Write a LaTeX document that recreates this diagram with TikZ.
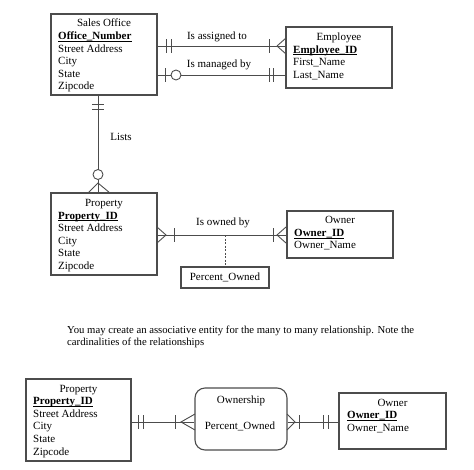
\documentclass[tikz,border=0pt]{standalone}
\usepackage{fontspec}
\setmainfont{Liberation Serif}
\newcommand\keyul[1]{\setbox0\hbox{\textbf{#1}}\rlap{\rule[-1.9pt]{\wd0}{0.75pt}}\box0}
\begin{document}
\begin{tikzpicture}[x=1pt,y=-1pt,
  ent/.style={draw=black!70,line width=1.1pt,inner sep=0pt,rectangle},
  txt/.style={inner sep=0pt,font=\fontsize{11}{12.5}\selectfont,text height=1.5ex,text depth=.25ex},
  attr/.style={txt,anchor=west},
  rel/.style={draw=black!70,line width=0.9pt},
  lbl/.style={txt}]
\useasboundingbox (0,0) rectangle (474,469);
% ---------- Sales Office
\node[ent,minimum width=106pt,minimum height=81pt] (so) at (104,54.5) {};
\node[txt] (so0) at (104,24) {Sales Office};
\node[attr] (so1) at (58,36.8) {\keyul{Office\_Number}};
\node[attr] (so2) at (58,49.3) {Street Address};
\node[attr] (so3) at (58,61.8) {City};
\node[attr] (so4) at (58,74.3) {State};
\node[attr] (so5) at (58,86.8) {Zipcode};
% ---------- Employee
\node[ent,minimum width=106pt,minimum height=61pt] (emp) at (339,57.5) {};
\node[txt] (emp0) at (339,37.5) {Employee};
\node[attr] (emp1) at (293,50.3) {\keyul{Employee\_ID}};
\node[attr] (emp2) at (293,62.8) {First\_Name};
\node[attr] (emp3) at (293,75.3) {Last\_Name};
% ---------- Property
\node[ent,minimum width=106pt,minimum height=82pt] (pr) at (104,234) {};
\node[txt] (pr0) at (104,203.5) {Property};
\node[attr] (pr1) at (58,216.3) {\keyul{Property\_ID}};
\node[attr] (pr2) at (58,228.8) {Street Address};
\node[attr] (pr3) at (58,241.3) {City};
\node[attr] (pr4) at (58,253.8) {State};
\node[attr] (pr5) at (58,266.3) {Zipcode};
% ---------- Owner
\node[ent,minimum width=106pt,minimum height=47pt] (ow) at (340,234.5) {};
\node[txt] (ow0) at (340,221) {Owner};
\node[attr] (ow1) at (294,233.5) {\keyul{Owner\_ID}};
\node[attr] (ow2) at (294,246) {Owner\_Name};
% ---------- Percent_Owned
\node[ent,minimum width=88pt,minimum height=21pt,font=\fontsize{11}{12.5}\selectfont] (po) at (225,277.5) {Percent\_Owned};
% ---------- relationships top
\draw[rel] (so.east |- 0,46) -- (emp.west |- 0,46);
\draw[rel] (166,39) -- (166,53) (171,39) -- (171,53);
\draw[rel] (269,39) -- (269,53);
\draw[rel] (277,46) -- (286,38) (277,46) -- (286,54);
\node[lbl] (l1) at (217,37) {Is assigned to};
\draw[rel] (so.east |- 0,75) -- (171,75) (181,75) -- (emp.west |- 0,75);
\draw[rel] (165,68) -- (165,82);
\draw[rel] (176,75) circle[radius=5];
\draw[rel] (269,68) -- (269,82) (273,68) -- (273,82);
\node[lbl] (l2) at (219,65) {Is managed by};
% Lists
\draw[rel] (so.south -| 98,0) -- (98,169.5) (98,179.5) -- (pr.north -| 98,0);
\draw[rel] (92,104) -- (104,104) (92,109) -- (104,109);
\draw[rel] (98,174.5) circle[radius=5];
\draw[rel] (88,193) -- (98,183) -- (110,193);
\node[lbl] (l3) at (121,138) {Lists};
% Is owned by
\draw[rel] (pr.east |- 0,235) -- (ow.west |- 0,235);
\draw[rel] (157,227) -- (166,235) -- (157,243);
\draw[rel] (174,228) -- (174,242);
\draw[rel] (273,228) -- (273,242);
\draw[rel] (286,227) -- (277,235) -- (286,243);
\node[lbl] (l4) at (223,223) {Is owned by};
\coordinate (mid) at (225,235);
\draw[rel,line width=0.7pt,dash pattern=on 2pt off 1.5pt] (mid) -- (po.north);
% ---------- note
\node[inner sep=0pt,anchor=north west,align=left,font=\fontsize{10.7}{11.3}\selectfont] (note) at (67,326) {You may create an associative entity for the many to many relationship. Note the\\cardinalities of the relationships};
% ---------- bottom
\node[ent,minimum width=105pt,minimum height=82pt] (pb) at (78.5,420) {};
\node[txt] (pb0) at (78.5,389.5) {Property};
\node[attr] (pb1) at (33,401.8) {\keyul{Property\_ID}};
\node[attr] (pb2) at (33,414.3) {Street Address};
\node[attr] (pb3) at (33,426.8) {City};
\node[attr] (pb4) at (33,439.3) {State};
\node[attr] (pb5) at (33,452.3) {Zipcode};
\node[ent,rounded corners=10pt,minimum width=92pt,minimum height=62pt] (osh) at (241,419) {};
\node[txt] (osh0) at (241,401) {Ownership};
\node[txt] (osh1) at (240,427) {Percent\_Owned};
\node[ent,minimum width=107pt,minimum height=56pt] (ob) at (392.5,421) {};
\node[txt] (ob0) at (392.5,404) {Owner};
\node[attr] (ob1) at (347,416) {\keyul{Owner\_ID}};
\node[attr] (ob2) at (347,428.5) {Owner\_Name};
\draw[rel] (pb.east |- 0,422) -- (osh.west |- 0,422);
\draw[rel] (osh.east |- 0,422) -- (ob.west |- 0,422);
\draw[rel] (138,415) -- (138,429) (143,415) -- (143,429);
\draw[rel] (175,415) -- (175,429);
\draw[rel] (195,414) -- (181,422) -- (195,430);
\draw[rel] (287,414) -- (295,422) -- (287,430);
\draw[rel] (299,415) -- (299,429);
\draw[rel] (323,415) -- (323,429) (328,415) -- (328,429);
\end{tikzpicture}
\end{document}
